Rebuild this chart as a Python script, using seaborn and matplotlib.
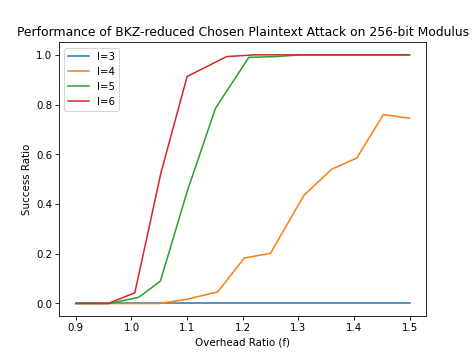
import numpy as np
import pandas as pd
import matplotlib
matplotlib.use('Agg')
import matplotlib.pyplot as plt
import seaborn as sb

# values
x_l3 = [0.9, 0.96, 1.01, 1.05, 1.1, 1.15, 1.2, 1.25, 1.31, 1.36, 1.405, 1.45, 1.5]
y_l3 = [0, 0, 0, 0, 0, 0, 0, 0, 0, 0, 0, 0, 0]

x_l4 = [0.9, 0.96, 1.01, 1.05, 1.1, 1.155, 1.203, 1.25, 1.31, 1.36, 1.405, 1.453, 1.5]
y_l4 = [0, 0, 0, 0, 0.017, 0.047, 0.183, 0.202, 0.435, 0.54, 0.585, 0.76, 0.745]

x_l5 = [0.9, 0.96, 1.013, 1.052, 1.1, 1.151, 1.211, 1.26, 1.305, 1.36, 1.405, 1.45, 1.5]
y_l5 = [0, 0, 0.025, 0.09, 0.45, 0.785, 0.99, 0.993, 1, 1, 1, 1, 1]

x_l6 = [0.9, 0.958, 1.006, 1.053, 1.1, 1.171, 1.221, 1.26, 1.31, 1.36, 1.405, 1.45, 1.5]
y_l6 = [0, 0, 0.043, 0.526, 0.913, 0.993, 1, 1, 1, 1, 1, 1, 1]

labels = ['l=3', 'l=4', 'l=5', 'l=6']
xs = [x_l3, x_l4, x_l5, x_l6]
ys = [y_l3, y_l4, y_l5, y_l6]

df = pd.concat([pd.DataFrame({'f': x, 'ratio': y, 'l': lab})
                for x, y, lab in zip(xs, ys, labels)], ignore_index=True)

fig, ax = plt.subplots(figsize=(6.4, 4.8), dpi=74)

sb.lineplot(data=df, x='f', y='ratio', hue='l', palette='tab10', ax=ax)

handles, labs = ax.get_legend_handles_labels()
ax.legend(handles, labs, loc='upper left')

ax.set_title('Performance of BKZ-reduced Chosen Plaintext Attack on 256-bit Modulus')
ax.set_xlabel('Overhead Ratio (f)')
ax.set_ylabel('Success Ratio')

plt.savefig('out.png', dpi=74)
